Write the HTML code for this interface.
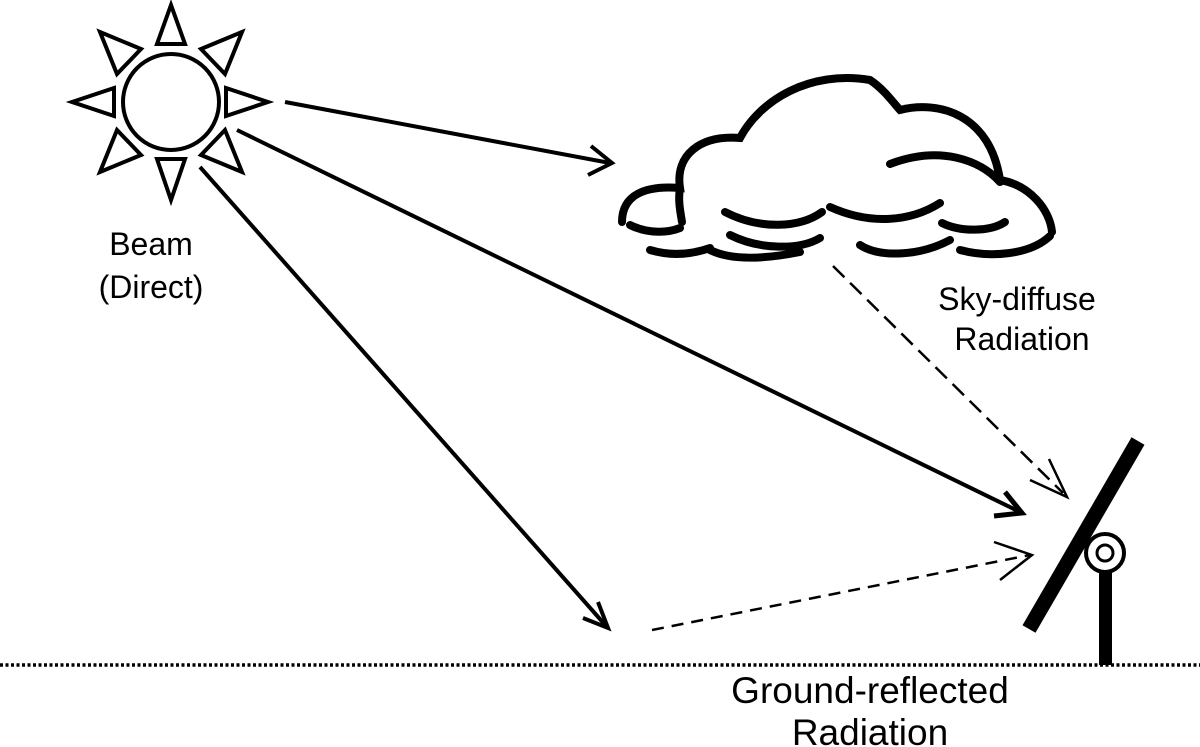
<!DOCTYPE html>
<html><head><meta charset="utf-8"><style>
html,body{margin:0;padding:0;background:#fff;width:1200px;height:747px;overflow:hidden}
text{font-family:"Liberation Sans",Arial,sans-serif;fill:#000}
</style></head><body>
<svg width="1200" height="747" viewBox="0 0 1200 747" xmlns="http://www.w3.org/2000/svg">
<!-- sun -->
<g fill="none" stroke="#000" stroke-width="4" stroke-linejoin="miter">
<circle cx="171" cy="102" r="48"/>
<polygon points="171,5 157,44 185,44"/>
<polygon points="171,200 157,159 185,159"/>
<polygon points="72,102 114,88 114,116"/>
<polygon points="268,102 226,88 226,116"/>
<polygon points="100,32 141,49 117,74"/>
<polygon points="242,32 201,49 225,74"/>
<polygon points="100,172 141,155 117,130"/>
<polygon points="242,172 201,155 225,130"/>
</g>
<!-- solid arrows -->
<g stroke="#000" stroke-width="4" fill="none" stroke-linecap="butt">
<line x1="285" y1="102" x2="610" y2="163"/>
<polyline points="591,146 612,163 588,175" stroke-width="4"/>
<line x1="237" y1="130" x2="1020" y2="512"/>
<polyline points="1005,492 1022,513 994,516" stroke-width="5"/>
<line x1="200" y1="167" x2="607" y2="627"/>
<polyline points="598,602 608,628 583,618"/>
</g>
<!-- dashed arrows -->
<g stroke="#000" stroke-width="2.5" fill="none">
<line x1="833" y1="266" x2="1063" y2="493" stroke-dasharray="16,8"/>
<polyline points="1049,459 1067,497 1030,480"/>
<line x1="652" y1="630" x2="1030" y2="555" stroke-dasharray="12,8"/>
<polyline points="994,542 1032,555 1000,580"/>
</g>
<!-- panel -->
<line x1="1138" y1="441" x2="1029" y2="629" stroke="#000" stroke-width="15"/>
<rect x="1099" y="570" width="13" height="95" fill="#000"/>
<circle cx="1105" cy="553" r="19" fill="#fff" stroke="#000" stroke-width="4"/>
<circle cx="1105" cy="553" r="8" fill="none" stroke="#000" stroke-width="3"/>
<!-- ground -->
<line x1="0" y1="665" x2="1200" y2="665" stroke="#000" stroke-width="3.5" stroke-dasharray="3,2.5"/>
<!-- cloud -->
<g fill="none" stroke="#000" stroke-width="8" stroke-linecap="round">
<path d="M622,222 C622,195 645,185 680,188 C675,155 700,135 740,138 C760,100 810,70 870,80 C885,90 895,105 900,110 C940,100 990,115 1000,180 C1030,185 1050,210 1052,232"/>
<path d="M680,188 C678,200 680,210 682,222"/>
<path d="M890,164 C940,145 980,160 1000,182"/>
<path d="M630,225 C650,235 670,232 680,228"/>
<path d="M725,212 C760,230 800,228 822,212"/>
<path d="M830,207 C870,225 910,222 940,203"/>
<path d="M942,223 C960,232 990,232 1005,222"/>
<path d="M650,250 C670,256 690,255 710,248"/>
<path d="M730,235 C760,250 800,250 820,238"/>
<path d="M860,245 C880,258 920,256 950,240"/>
<path d="M960,250 C990,258 1030,255 1050,236"/>
<path d="M710,250 C730,260 760,260 800,252"/>
</g>
<!-- labels -->
<g font-size="32" text-anchor="middle">
<text x="151" y="255">Beam</text>
<text x="151" y="298">(Direct)</text>
<text x="1017" y="310">Sky-diffuse</text>
<text x="1022" y="350">Radiation</text>
</g>
<g font-size="37" text-anchor="middle">
<text x="870" y="703">Ground-reflected</text>
<text x="870" y="745">Radiation</text>
</g>
</svg>
</body></html>
